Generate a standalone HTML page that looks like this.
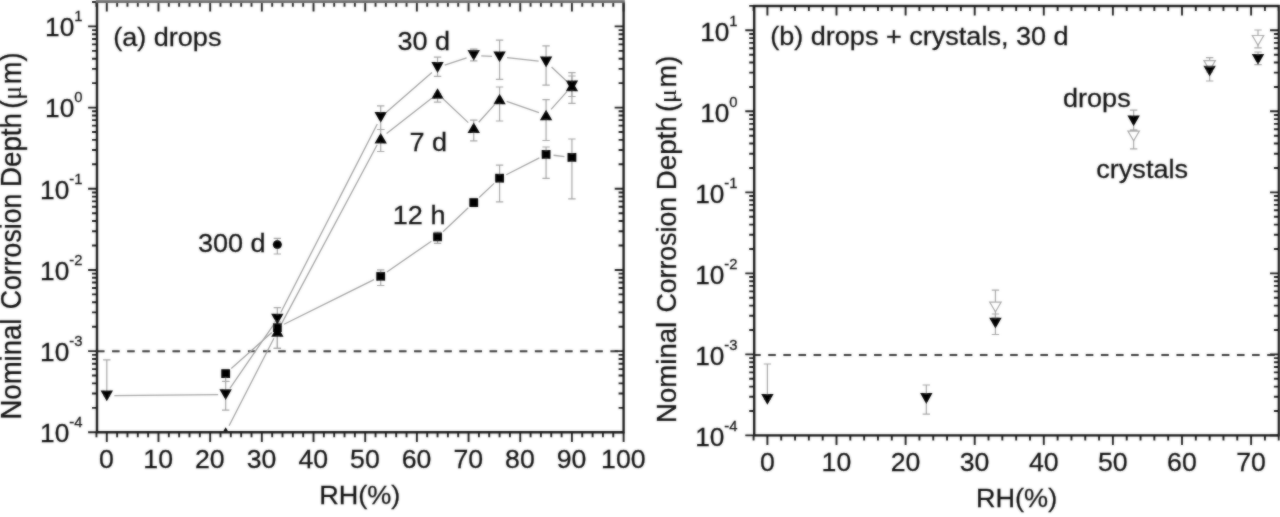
<!DOCTYPE html>
<html lang="en"><head><meta charset="utf-8"><title>Nominal Corrosion Depth vs RH</title>
<style>
html,body{margin:0;padding:0;background:#fff;}
body{width:1280px;height:517px;overflow:hidden;}
svg{display:block;font-family:"Liberation Sans",Arial,Helvetica,sans-serif;fill:#151515;}
text{stroke:#151515;stroke-width:0.3px;}
</style></head><body>
<svg width="1280" height="517" viewBox="0 0 1280 517">
<defs><filter id="soft" filterUnits="userSpaceOnUse" x="-10" y="-10" width="1300" height="537"><feGaussianBlur in="SourceGraphic" stdDeviation="1" result="b"/><feComposite in="SourceGraphic" in2="b" operator="arithmetic" k1="0" k2="0.44999999999999996" k3="0.55" k4="0"/></filter></defs>
<rect width="1280" height="517" fill="#fff"/>
<g filter="url(#soft)">
<g>
<path d="M96.95,351.3H623.6" stroke="#333" stroke-width="2.1" stroke-dasharray="7.6 7.5" fill="none"/>
<clipPath id="ca"><rect x="97.0" y="1.8" width="526.6" height="430.5"/></clipPath>
<g clip-path="url(#ca)">
<path d="M114.30,395.72L218.16,394.68M229.90,388.41L273.10,325.39M280.76,312.52L377.29,123.98M386.35,112.36L431.91,72.44M444.66,65.12L466.62,57.78M481.22,55.81L492.08,56.39M507.02,57.63L538.63,61.17M551.58,67.10L566.42,80.90" stroke="#a2a2a2" stroke-width="1.3" fill="none"/>
<path d="M229.08,425.82L273.93,338.18M280.88,324.89L377.17,144.81M386.60,133.56L431.66,98.14M442.99,98.66L468.29,122.64M478.74,122.22L494.56,104.58M506.66,101.44L538.99,112.56M551.07,109.40L566.93,91.60" stroke="#a2a2a2" stroke-width="1.3" fill="none"/>
<path d="M231.27,368.61L271.74,332.59M284.06,324.27L373.99,279.63M386.87,272.03L431.39,241.17M442.99,231.74L468.29,207.76M479.18,197.45L494.11,183.35M506.24,174.78L539.40,157.82M553.53,155.26L564.47,156.54" stroke="#a2a2a2" stroke-width="1.3" fill="none"/>
<path d="M106.80,359.90V395.80M103.10,359.90h7.4M103.10,395.80h7.4" stroke="#a4a4a4" stroke-width="1.2" fill="none"/>
<path d="M225.66,381.40V410.20M221.96,381.40h7.4M221.96,410.20h7.4" stroke="#a4a4a4" stroke-width="1.2" fill="none"/>
<path d="M277.34,307.60V330.00M273.64,307.60h7.4M273.64,330.00h7.4" stroke="#a4a4a4" stroke-width="1.2" fill="none"/>
<path d="M380.70,105.80V129.50M377.00,105.80h7.4M377.00,129.50h7.4" stroke="#a4a4a4" stroke-width="1.2" fill="none"/>
<path d="M437.55,57.10V76.40M433.85,57.10h7.4M433.85,76.40h7.4" stroke="#a4a4a4" stroke-width="1.2" fill="none"/>
<path d="M473.73,49.20V60.90M470.03,49.20h7.4M470.03,60.90h7.4" stroke="#a4a4a4" stroke-width="1.2" fill="none"/>
<path d="M499.57,40.10V79.30M495.87,40.10h7.4M495.87,79.30h7.4" stroke="#a4a4a4" stroke-width="1.2" fill="none"/>
<path d="M546.08,45.80V85.10M542.38,45.80h7.4M542.38,85.10h7.4" stroke="#a4a4a4" stroke-width="1.2" fill="none"/>
<path d="M571.92,72.60V103.40M568.22,72.60h7.4M568.22,103.40h7.4" stroke="#a4a4a4" stroke-width="1.2" fill="none"/>
<path d="M277.34,322.00V348.40M273.64,322.00h7.4M273.64,348.40h7.4" stroke="#a4a4a4" stroke-width="1.2" fill="none"/>
<path d="M380.70,129.50V151.50M377.00,129.50h7.4M377.00,151.50h7.4" stroke="#a4a4a4" stroke-width="1.2" fill="none"/>
<path d="M437.55,93.50V102.10M433.85,93.50h7.4M433.85,102.10h7.4" stroke="#a4a4a4" stroke-width="1.2" fill="none"/>
<path d="M473.73,120.10V140.80M470.03,120.10h7.4M470.03,140.80h7.4" stroke="#a4a4a4" stroke-width="1.2" fill="none"/>
<path d="M499.57,87.00V121.00M495.87,87.00h7.4M495.87,121.00h7.4" stroke="#a4a4a4" stroke-width="1.2" fill="none"/>
<path d="M546.08,99.60V140.50M542.38,99.60h7.4M542.38,140.50h7.4" stroke="#a4a4a4" stroke-width="1.2" fill="none"/>
<path d="M571.92,76.00V96.50M568.22,76.00h7.4M568.22,96.50h7.4" stroke="#a4a4a4" stroke-width="1.2" fill="none"/>
<path d="M225.66,373.60V381.50M221.96,373.60h7.4M221.96,381.50h7.4" stroke="#a4a4a4" stroke-width="1.2" fill="none"/>
<path d="M277.34,316.00V348.40M273.64,316.00h7.4M273.64,348.40h7.4" stroke="#a4a4a4" stroke-width="1.2" fill="none"/>
<path d="M380.70,269.80V285.50M377.00,269.80h7.4M377.00,285.50h7.4" stroke="#a4a4a4" stroke-width="1.2" fill="none"/>
<path d="M437.55,232.00V243.30M433.85,232.00h7.4M433.85,243.30h7.4" stroke="#a4a4a4" stroke-width="1.2" fill="none"/>
<path d="M473.73,199.00V206.50M470.03,199.00h7.4M470.03,206.50h7.4" stroke="#a4a4a4" stroke-width="1.2" fill="none"/>
<path d="M499.57,165.10V201.80M495.87,165.10h7.4M495.87,201.80h7.4" stroke="#a4a4a4" stroke-width="1.2" fill="none"/>
<path d="M546.08,147.00V178.30M542.38,147.00h7.4M542.38,178.30h7.4" stroke="#a4a4a4" stroke-width="1.2" fill="none"/>
<path d="M571.92,139.00V198.80M568.22,139.00h7.4M568.22,198.80h7.4" stroke="#a4a4a4" stroke-width="1.2" fill="none"/>
<path d="M277.34,238.30V254.00M273.64,238.30h7.4M273.64,254.00h7.4" stroke="#a4a4a4" stroke-width="1.2" fill="none"/>
<rect x="221.26" y="369.20" width="8.8" height="8.8" fill="#000"/>
<rect x="272.94" y="323.20" width="8.8" height="8.8" fill="#000"/>
<rect x="376.30" y="271.90" width="8.8" height="8.8" fill="#000"/>
<rect x="433.15" y="232.50" width="8.8" height="8.8" fill="#000"/>
<rect x="469.33" y="198.20" width="8.8" height="8.8" fill="#000"/>
<rect x="495.17" y="173.80" width="8.8" height="8.8" fill="#000"/>
<rect x="541.68" y="150.00" width="8.8" height="8.8" fill="#000"/>
<rect x="567.52" y="153.00" width="8.8" height="8.8" fill="#000"/>
<polygon points="219.46,437.70 231.86,437.70 225.66,427.30" fill="#000"/>
<polygon points="271.14,336.70 283.54,336.70 277.34,326.30" fill="#000"/>
<polygon points="374.50,143.40 386.90,143.40 380.70,133.00" fill="#000"/>
<polygon points="431.35,98.70 443.75,98.70 437.55,88.30" fill="#000"/>
<polygon points="467.53,133.00 479.93,133.00 473.73,122.60" fill="#000"/>
<polygon points="493.37,104.20 505.77,104.20 499.57,93.80" fill="#000"/>
<polygon points="539.88,120.20 552.28,120.20 546.08,109.80" fill="#000"/>
<polygon points="565.72,91.20 578.12,91.20 571.92,80.80" fill="#000"/>
<polygon points="100.60,390.40 113.00,390.40 106.80,401.20" fill="#000" stroke="none" stroke-width="0"/>
<polygon points="219.46,389.20 231.86,389.20 225.66,400.00" fill="#000" stroke="none" stroke-width="0"/>
<polygon points="271.14,313.80 283.54,313.80 277.34,324.60" fill="#000" stroke="none" stroke-width="0"/>
<polygon points="374.50,111.90 386.90,111.90 380.70,122.70" fill="#000" stroke="none" stroke-width="0"/>
<polygon points="431.35,62.10 443.75,62.10 437.55,72.90" fill="#000" stroke="none" stroke-width="0"/>
<polygon points="467.53,50.00 479.93,50.00 473.73,60.80" fill="#000" stroke="none" stroke-width="0"/>
<polygon points="493.37,51.40 505.77,51.40 499.57,62.20" fill="#000" stroke="none" stroke-width="0"/>
<polygon points="539.88,56.60 552.28,56.60 546.08,67.40" fill="#000" stroke="none" stroke-width="0"/>
<polygon points="565.72,80.60 578.12,80.60 571.92,91.40" fill="#000" stroke="none" stroke-width="0"/>
<circle cx="277.34" cy="244.60" r="4.5" fill="#000"/>
</g>
<path d="M106.80,432.30v9.6M106.80,1.80v9.6M158.48,432.30v9.6M158.48,1.80v9.6M210.16,432.30v9.6M210.16,1.80v9.6M261.84,432.30v9.6M261.84,1.80v9.6M313.52,432.30v9.6M313.52,1.80v9.6M365.20,432.30v9.6M365.20,1.80v9.6M416.88,432.30v9.6M416.88,1.80v9.6M468.56,432.30v9.6M468.56,1.80v9.6M520.24,432.30v9.6M520.24,1.80v9.6M571.92,432.30v9.6M571.92,1.80v9.6M623.60,432.30v9.6M623.60,1.80v9.6M96.46,432.30v5.0M96.46,1.80v5.0M117.14,432.30v5.0M117.14,1.80v5.0M127.47,432.30v5.0M127.47,1.80v5.0M137.81,432.30v5.0M137.81,1.80v5.0M148.14,432.30v5.0M148.14,1.80v5.0M168.82,432.30v5.0M168.82,1.80v5.0M179.15,432.30v5.0M179.15,1.80v5.0M189.49,432.30v5.0M189.49,1.80v5.0M199.82,432.30v5.0M199.82,1.80v5.0M220.50,432.30v5.0M220.50,1.80v5.0M230.83,432.30v5.0M230.83,1.80v5.0M241.17,432.30v5.0M241.17,1.80v5.0M251.50,432.30v5.0M251.50,1.80v5.0M272.18,432.30v5.0M272.18,1.80v5.0M282.51,432.30v5.0M282.51,1.80v5.0M292.85,432.30v5.0M292.85,1.80v5.0M303.18,432.30v5.0M303.18,1.80v5.0M323.86,432.30v5.0M323.86,1.80v5.0M334.19,432.30v5.0M334.19,1.80v5.0M344.53,432.30v5.0M344.53,1.80v5.0M354.86,432.30v5.0M354.86,1.80v5.0M375.54,432.30v5.0M375.54,1.80v5.0M385.87,432.30v5.0M385.87,1.80v5.0M396.21,432.30v5.0M396.21,1.80v5.0M406.54,432.30v5.0M406.54,1.80v5.0M427.22,432.30v5.0M427.22,1.80v5.0M437.55,432.30v5.0M437.55,1.80v5.0M447.89,432.30v5.0M447.89,1.80v5.0M458.22,432.30v5.0M458.22,1.80v5.0M478.90,432.30v5.0M478.90,1.80v5.0M489.23,432.30v5.0M489.23,1.80v5.0M499.57,432.30v5.0M499.57,1.80v5.0M509.90,432.30v5.0M509.90,1.80v5.0M530.58,432.30v5.0M530.58,1.80v5.0M540.91,432.30v5.0M540.91,1.80v5.0M551.25,432.30v5.0M551.25,1.80v5.0M561.58,432.30v5.0M561.58,1.80v5.0M582.26,432.30v5.0M582.26,1.80v5.0M592.59,432.30v5.0M592.59,1.80v5.0M602.93,432.30v5.0M602.93,1.80v5.0M613.26,432.30v5.0M613.26,1.80v5.0M97.00,432.30h-8.9M623.60,432.30h-8.9M97.00,407.86h-5.0M623.60,407.86h-5.0M97.00,393.57h-5.0M623.60,393.57h-5.0M97.00,383.42h-5.0M623.60,383.42h-5.0M97.00,375.56h-5.0M623.60,375.56h-5.0M97.00,369.13h-5.0M623.60,369.13h-5.0M97.00,363.69h-5.0M623.60,363.69h-5.0M97.00,358.99h-5.0M623.60,358.99h-5.0M97.00,354.83h-5.0M623.60,354.83h-5.0M97.00,351.12h-8.9M623.60,351.12h-8.9M97.00,326.68h-5.0M623.60,326.68h-5.0M97.00,312.39h-5.0M623.60,312.39h-5.0M97.00,302.24h-5.0M623.60,302.24h-5.0M97.00,294.38h-5.0M623.60,294.38h-5.0M97.00,287.95h-5.0M623.60,287.95h-5.0M97.00,282.51h-5.0M623.60,282.51h-5.0M97.00,277.81h-5.0M623.60,277.81h-5.0M97.00,273.65h-5.0M623.60,273.65h-5.0M97.00,269.94h-8.9M623.60,269.94h-8.9M97.00,245.50h-5.0M623.60,245.50h-5.0M97.00,231.21h-5.0M623.60,231.21h-5.0M97.00,221.06h-5.0M623.60,221.06h-5.0M97.00,213.20h-5.0M623.60,213.20h-5.0M97.00,206.77h-5.0M623.60,206.77h-5.0M97.00,201.33h-5.0M623.60,201.33h-5.0M97.00,196.63h-5.0M623.60,196.63h-5.0M97.00,192.47h-5.0M623.60,192.47h-5.0M97.00,188.76h-8.9M623.60,188.76h-8.9M97.00,164.32h-5.0M623.60,164.32h-5.0M97.00,150.03h-5.0M623.60,150.03h-5.0M97.00,139.88h-5.0M623.60,139.88h-5.0M97.00,132.02h-5.0M623.60,132.02h-5.0M97.00,125.59h-5.0M623.60,125.59h-5.0M97.00,120.15h-5.0M623.60,120.15h-5.0M97.00,115.45h-5.0M623.60,115.45h-5.0M97.00,111.29h-5.0M623.60,111.29h-5.0M97.00,107.58h-8.9M623.60,107.58h-8.9M97.00,83.14h-5.0M623.60,83.14h-5.0M97.00,68.85h-5.0M623.60,68.85h-5.0M97.00,58.70h-5.0M623.60,58.70h-5.0M97.00,50.84h-5.0M623.60,50.84h-5.0M97.00,44.41h-5.0M623.60,44.41h-5.0M97.00,38.97h-5.0M623.60,38.97h-5.0M97.00,34.27h-5.0M623.60,34.27h-5.0M97.00,30.11h-5.0M623.60,30.11h-5.0M97.00,26.40h-8.9M623.60,26.40h-8.9M97.00,1.96h-5.0M623.60,1.96h-5.0" stroke="#1c1c1c" stroke-width="1.9" fill="none"/>
<path d="M95.80,1.5H624.80" fill="none" stroke="#6e6e6e" stroke-width="3"/>
<path d="M97.00,2.80V432.30H623.60V2.80" fill="none" stroke="#1c1c1c" stroke-width="2.4" stroke-linejoin="miter"/>
<text transform="translate(106.50,467.80) scale(1.0,0.96)" text-anchor="middle" font-size="26.67" >0</text>
<text transform="translate(158.18,467.80) scale(1.0,0.96)" text-anchor="middle" font-size="26.67" >10</text>
<text transform="translate(209.86,467.80) scale(1.0,0.96)" text-anchor="middle" font-size="26.67" >20</text>
<text transform="translate(261.54,467.80) scale(1.0,0.96)" text-anchor="middle" font-size="26.67" >30</text>
<text transform="translate(313.22,467.80) scale(1.0,0.96)" text-anchor="middle" font-size="26.67" >40</text>
<text transform="translate(364.90,467.80) scale(1.0,0.96)" text-anchor="middle" font-size="26.67" >50</text>
<text transform="translate(416.58,467.80) scale(1.0,0.96)" text-anchor="middle" font-size="26.67" >60</text>
<text transform="translate(468.26,467.80) scale(1.0,0.96)" text-anchor="middle" font-size="26.67" >70</text>
<text transform="translate(519.94,467.80) scale(1.0,0.96)" text-anchor="middle" font-size="26.67" >80</text>
<text transform="translate(571.62,467.80) scale(1.0,0.96)" text-anchor="middle" font-size="26.67" >90</text>
<text transform="translate(623.30,467.80) scale(1.0,0.96)" text-anchor="middle" font-size="26.67" >100</text>
<text transform="translate(74.26,36.30) scale(0.985,0.96)" text-anchor="end" font-size="26.67" >10</text><text transform="translate(82.40,21.30) scale(1.015,0.96)" text-anchor="end" font-size="14.6" >1</text>
<text transform="translate(74.26,117.48) scale(0.985,0.96)" text-anchor="end" font-size="26.67" >10</text><text transform="translate(82.40,102.48) scale(1.015,0.96)" text-anchor="end" font-size="14.6" >0</text>
<text transform="translate(69.33,198.66) scale(0.985,0.96)" text-anchor="end" font-size="26.67" >10</text><text transform="translate(82.40,183.66) scale(1.015,0.96)" text-anchor="end" font-size="14.6" >-1</text>
<text transform="translate(69.33,279.84) scale(0.985,0.96)" text-anchor="end" font-size="26.67" >10</text><text transform="translate(82.40,264.84) scale(1.015,0.96)" text-anchor="end" font-size="14.6" >-2</text>
<text transform="translate(69.33,361.02) scale(0.985,0.96)" text-anchor="end" font-size="26.67" >10</text><text transform="translate(82.40,346.02) scale(1.015,0.96)" text-anchor="end" font-size="14.6" >-3</text>
<text transform="translate(69.33,442.20) scale(0.985,0.96)" text-anchor="end" font-size="26.67" >10</text><text transform="translate(82.40,427.20) scale(1.015,0.96)" text-anchor="end" font-size="14.6" >-4</text>
<text transform="translate(359.80,503.80) scale(1.015,0.96)" text-anchor="middle" font-size="26.67" >RH(%)</text>
<text transform="translate(21.20,419.60) rotate(-90) scale(1.034,1.075)" font-size="26.67">Nominal</text>
<text transform="translate(21.20,309.20) rotate(-90) scale(1.0,1.075)" font-size="26.67">Corrosion</text>
<text transform="translate(21.20,187.00) rotate(-90) scale(1.04,1.075)" font-size="26.67">Depth</text>
<text transform="translate(21.20,108.80) rotate(-90) scale(1.02,1.075)" font-size="26.67">(<tspan font-family="Liberation Serif,serif" font-size="25" stroke-width="0">μ</tspan><tspan dx="1.8">m)</tspan></text>
<text transform="translate(113.20,46.00) scale(1.015,0.96)" text-anchor="start" font-size="26.67" >(a) drops</text>
<text transform="translate(397.50,50.00) scale(1.015,0.96)" text-anchor="start" font-size="26.67" >30 d</text>
<text transform="translate(409.50,151.00) scale(1.015,0.96)" text-anchor="start" font-size="26.67" >7 d</text>
<text transform="translate(392.80,224.00) scale(1.015,0.96)" text-anchor="start" font-size="26.67" >12 h</text>
<text transform="translate(265.60,252.00) scale(1.015,0.96)" text-anchor="end" font-size="26.67" >300 d</text>
</g>
<g>
<path d="M753.1,355.0H1278.9" stroke="#333" stroke-width="2.1" stroke-dasharray="7.6 7.52" fill="none"/>
<path d="M995.43,290.10V318.00M991.73,290.10h7.4M991.73,318.00h7.4" stroke="#a5a5a5" stroke-width="1.2" fill="none"/>
<path d="M1133.63,130.30V148.90M1129.93,130.30h7.4M1129.93,148.90h7.4" stroke="#a5a5a5" stroke-width="1.2" fill="none"/>
<path d="M1209.64,57.70V72.00M1205.94,57.70h7.4M1205.94,72.00h7.4" stroke="#a5a5a5" stroke-width="1.2" fill="none"/>
<path d="M1258.01,30.00V47.90M1254.31,30.00h7.4M1254.31,47.90h7.4" stroke="#a5a5a5" stroke-width="1.2" fill="none"/>
<path d="M767.40,364.00V399.40M763.70,364.00h7.4M763.70,399.40h7.4" stroke="#a4a4a4" stroke-width="1.2" fill="none"/>
<path d="M926.33,385.00V414.20M922.63,385.00h7.4M922.63,414.20h7.4" stroke="#a4a4a4" stroke-width="1.2" fill="none"/>
<path d="M995.43,314.00V334.50M991.73,314.00h7.4M991.73,334.50h7.4" stroke="#a4a4a4" stroke-width="1.2" fill="none"/>
<path d="M1133.63,110.20V130.00M1129.93,110.20h7.4M1129.93,130.00h7.4" stroke="#a4a4a4" stroke-width="1.2" fill="none"/>
<path d="M1209.64,63.00V81.00M1205.94,63.00h7.4M1205.94,81.00h7.4" stroke="#a4a4a4" stroke-width="1.2" fill="none"/>
<path d="M1258.01,52.00V64.60M1254.31,52.00h7.4M1254.31,64.60h7.4" stroke="#a4a4a4" stroke-width="1.2" fill="none"/>
<polygon points="989.73,302.10 1001.13,302.10 995.43,311.90" fill="#fff" stroke="#a5a5a5" stroke-width="1.2"/>
<polygon points="1127.93,131.10 1139.33,131.10 1133.63,140.90" fill="#fff" stroke="#a5a5a5" stroke-width="1.2"/>
<polygon points="1203.94,60.60 1215.34,60.60 1209.64,70.40" fill="#fff" stroke="#a5a5a5" stroke-width="1.2"/>
<polygon points="1252.31,35.50 1263.71,35.50 1258.01,45.30" fill="#fff" stroke="#a5a5a5" stroke-width="1.2"/>
<polygon points="761.20,394.00 773.60,394.00 767.40,404.80" fill="#000" stroke="none" stroke-width="0"/>
<polygon points="920.13,393.10 932.53,393.10 926.33,403.90" fill="#000" stroke="none" stroke-width="0"/>
<polygon points="989.23,317.70 1001.63,317.70 995.43,328.50" fill="#000" stroke="none" stroke-width="0"/>
<polygon points="1127.43,115.40 1139.83,115.40 1133.63,126.20" fill="#000" stroke="none" stroke-width="0"/>
<polygon points="1203.44,65.80 1215.84,65.80 1209.64,76.60" fill="#000" stroke="none" stroke-width="0"/>
<polygon points="1251.81,53.90 1264.21,53.90 1258.01,64.70" fill="#000" stroke="none" stroke-width="0"/>
<path d="M767.40,435.40v9.6M767.40,6.00v9.6M836.50,435.40v9.6M836.50,6.00v9.6M905.60,435.40v9.6M905.60,6.00v9.6M974.70,435.40v9.6M974.70,6.00v9.6M1043.80,435.40v9.6M1043.80,6.00v9.6M1112.90,435.40v9.6M1112.90,6.00v9.6M1182.00,435.40v9.6M1182.00,6.00v9.6M1251.10,435.40v9.6M1251.10,6.00v9.6M753.58,435.40v5.0M753.58,6.00v5.0M781.22,435.40v5.0M781.22,6.00v5.0M795.04,435.40v5.0M795.04,6.00v5.0M808.86,435.40v5.0M808.86,6.00v5.0M822.68,435.40v5.0M822.68,6.00v5.0M850.32,435.40v5.0M850.32,6.00v5.0M864.14,435.40v5.0M864.14,6.00v5.0M877.96,435.40v5.0M877.96,6.00v5.0M891.78,435.40v5.0M891.78,6.00v5.0M919.42,435.40v5.0M919.42,6.00v5.0M933.24,435.40v5.0M933.24,6.00v5.0M947.06,435.40v5.0M947.06,6.00v5.0M960.88,435.40v5.0M960.88,6.00v5.0M988.52,435.40v5.0M988.52,6.00v5.0M1002.34,435.40v5.0M1002.34,6.00v5.0M1016.16,435.40v5.0M1016.16,6.00v5.0M1029.98,435.40v5.0M1029.98,6.00v5.0M1057.62,435.40v5.0M1057.62,6.00v5.0M1071.44,435.40v5.0M1071.44,6.00v5.0M1085.26,435.40v5.0M1085.26,6.00v5.0M1099.08,435.40v5.0M1099.08,6.00v5.0M1126.72,435.40v5.0M1126.72,6.00v5.0M1140.54,435.40v5.0M1140.54,6.00v5.0M1154.36,435.40v5.0M1154.36,6.00v5.0M1168.18,435.40v5.0M1168.18,6.00v5.0M1195.82,435.40v5.0M1195.82,6.00v5.0M1209.64,435.40v5.0M1209.64,6.00v5.0M1223.46,435.40v5.0M1223.46,6.00v5.0M1237.28,435.40v5.0M1237.28,6.00v5.0M1264.92,435.40v5.0M1264.92,6.00v5.0M1278.74,435.40v5.0M1278.74,6.00v5.0M754.20,435.40h-8.9M1278.90,435.40h-8.9M754.20,411.01h-5.0M1278.90,411.01h-5.0M754.20,396.74h-5.0M1278.90,396.74h-5.0M754.20,386.62h-5.0M1278.90,386.62h-5.0M754.20,378.77h-5.0M1278.90,378.77h-5.0M754.20,372.35h-5.0M1278.90,372.35h-5.0M754.20,366.93h-5.0M1278.90,366.93h-5.0M754.20,362.23h-5.0M1278.90,362.23h-5.0M754.20,358.09h-5.0M1278.90,358.09h-5.0M754.20,354.38h-8.9M1278.90,354.38h-8.9M754.20,329.99h-5.0M1278.90,329.99h-5.0M754.20,315.72h-5.0M1278.90,315.72h-5.0M754.20,305.60h-5.0M1278.90,305.60h-5.0M754.20,297.75h-5.0M1278.90,297.75h-5.0M754.20,291.33h-5.0M1278.90,291.33h-5.0M754.20,285.91h-5.0M1278.90,285.91h-5.0M754.20,281.21h-5.0M1278.90,281.21h-5.0M754.20,277.07h-5.0M1278.90,277.07h-5.0M754.20,273.36h-8.9M1278.90,273.36h-8.9M754.20,248.97h-5.0M1278.90,248.97h-5.0M754.20,234.70h-5.0M1278.90,234.70h-5.0M754.20,224.58h-5.0M1278.90,224.58h-5.0M754.20,216.73h-5.0M1278.90,216.73h-5.0M754.20,210.31h-5.0M1278.90,210.31h-5.0M754.20,204.89h-5.0M1278.90,204.89h-5.0M754.20,200.19h-5.0M1278.90,200.19h-5.0M754.20,196.05h-5.0M1278.90,196.05h-5.0M754.20,192.34h-8.9M1278.90,192.34h-8.9M754.20,167.95h-5.0M1278.90,167.95h-5.0M754.20,153.68h-5.0M1278.90,153.68h-5.0M754.20,143.56h-5.0M1278.90,143.56h-5.0M754.20,135.71h-5.0M1278.90,135.71h-5.0M754.20,129.29h-5.0M1278.90,129.29h-5.0M754.20,123.87h-5.0M1278.90,123.87h-5.0M754.20,119.17h-5.0M1278.90,119.17h-5.0M754.20,115.03h-5.0M1278.90,115.03h-5.0M754.20,111.32h-8.9M1278.90,111.32h-8.9M754.20,86.93h-5.0M1278.90,86.93h-5.0M754.20,72.66h-5.0M1278.90,72.66h-5.0M754.20,62.54h-5.0M1278.90,62.54h-5.0M754.20,54.69h-5.0M1278.90,54.69h-5.0M754.20,48.27h-5.0M1278.90,48.27h-5.0M754.20,42.85h-5.0M1278.90,42.85h-5.0M754.20,38.15h-5.0M1278.90,38.15h-5.0M754.20,34.01h-5.0M1278.90,34.01h-5.0M754.20,30.30h-8.9M1278.90,30.30h-8.9M754.20,5.91h-5.0M1278.90,5.91h-5.0" stroke="#1c1c1c" stroke-width="1.9" fill="none"/>
<rect x="754.20" y="6.00" width="524.70" height="429.40" fill="none" stroke="#1c1c1c" stroke-width="2.4"/>
<text transform="translate(767.30,471.00) scale(1.0,0.96)" text-anchor="middle" font-size="26.67" >0</text>
<text transform="translate(836.40,471.00) scale(1.0,0.96)" text-anchor="middle" font-size="26.67" >10</text>
<text transform="translate(905.50,471.00) scale(1.0,0.96)" text-anchor="middle" font-size="26.67" >20</text>
<text transform="translate(974.60,471.00) scale(1.0,0.96)" text-anchor="middle" font-size="26.67" >30</text>
<text transform="translate(1043.70,471.00) scale(1.0,0.96)" text-anchor="middle" font-size="26.67" >40</text>
<text transform="translate(1112.80,471.00) scale(1.0,0.96)" text-anchor="middle" font-size="26.67" >50</text>
<text transform="translate(1181.90,471.00) scale(1.0,0.96)" text-anchor="middle" font-size="26.67" >60</text>
<text transform="translate(1251.00,471.00) scale(1.0,0.96)" text-anchor="middle" font-size="26.67" >70</text>
<text transform="translate(729.36,40.80) scale(0.985,0.96)" text-anchor="end" font-size="26.67" >10</text><text transform="translate(737.50,25.80) scale(1.015,0.96)" text-anchor="end" font-size="14.6" >1</text>
<text transform="translate(729.36,121.82) scale(0.985,0.96)" text-anchor="end" font-size="26.67" >10</text><text transform="translate(737.50,106.82) scale(1.015,0.96)" text-anchor="end" font-size="14.6" >0</text>
<text transform="translate(724.43,202.84) scale(0.985,0.96)" text-anchor="end" font-size="26.67" >10</text><text transform="translate(737.50,187.84) scale(1.015,0.96)" text-anchor="end" font-size="14.6" >-1</text>
<text transform="translate(724.43,283.86) scale(0.985,0.96)" text-anchor="end" font-size="26.67" >10</text><text transform="translate(737.50,268.86) scale(1.015,0.96)" text-anchor="end" font-size="14.6" >-2</text>
<text transform="translate(724.43,364.88) scale(0.985,0.96)" text-anchor="end" font-size="26.67" >10</text><text transform="translate(737.50,349.88) scale(1.015,0.96)" text-anchor="end" font-size="14.6" >-3</text>
<text transform="translate(724.43,445.90) scale(0.985,0.96)" text-anchor="end" font-size="26.67" >10</text><text transform="translate(737.50,430.90) scale(1.015,0.96)" text-anchor="end" font-size="14.6" >-4</text>
<text transform="translate(1016.60,507.30) scale(1.015,0.96)" text-anchor="middle" font-size="26.67" >RH(%)</text>
<text transform="translate(676.40,422.90) rotate(-90) scale(1.034,1.04)" font-size="26.67">Nominal</text>
<text transform="translate(676.40,312.50) rotate(-90) scale(1.0,1.04)" font-size="26.67">Corrosion</text>
<text transform="translate(676.40,190.30) rotate(-90) scale(1.04,1.04)" font-size="26.67">Depth</text>
<text transform="translate(676.40,112.10) rotate(-90) scale(1.02,1.04)" font-size="26.67">(<tspan font-family="Liberation Serif,serif" font-size="25" stroke-width="0">μ</tspan><tspan dx="1.8">m)</tspan></text>
<text transform="translate(770.20,45.40) scale(1.015,0.96)" text-anchor="start" font-size="26.67" >(b) drops + crystals, 30 d</text>
<text transform="translate(1063.00,106.80) scale(1.015,0.96)" text-anchor="start" font-size="26.67" >drops</text>
<text transform="translate(1096.30,178.20) scale(1.015,0.96)" text-anchor="start" font-size="26.67" >crystals</text>
</g>
</g>
</svg>
</body></html>
